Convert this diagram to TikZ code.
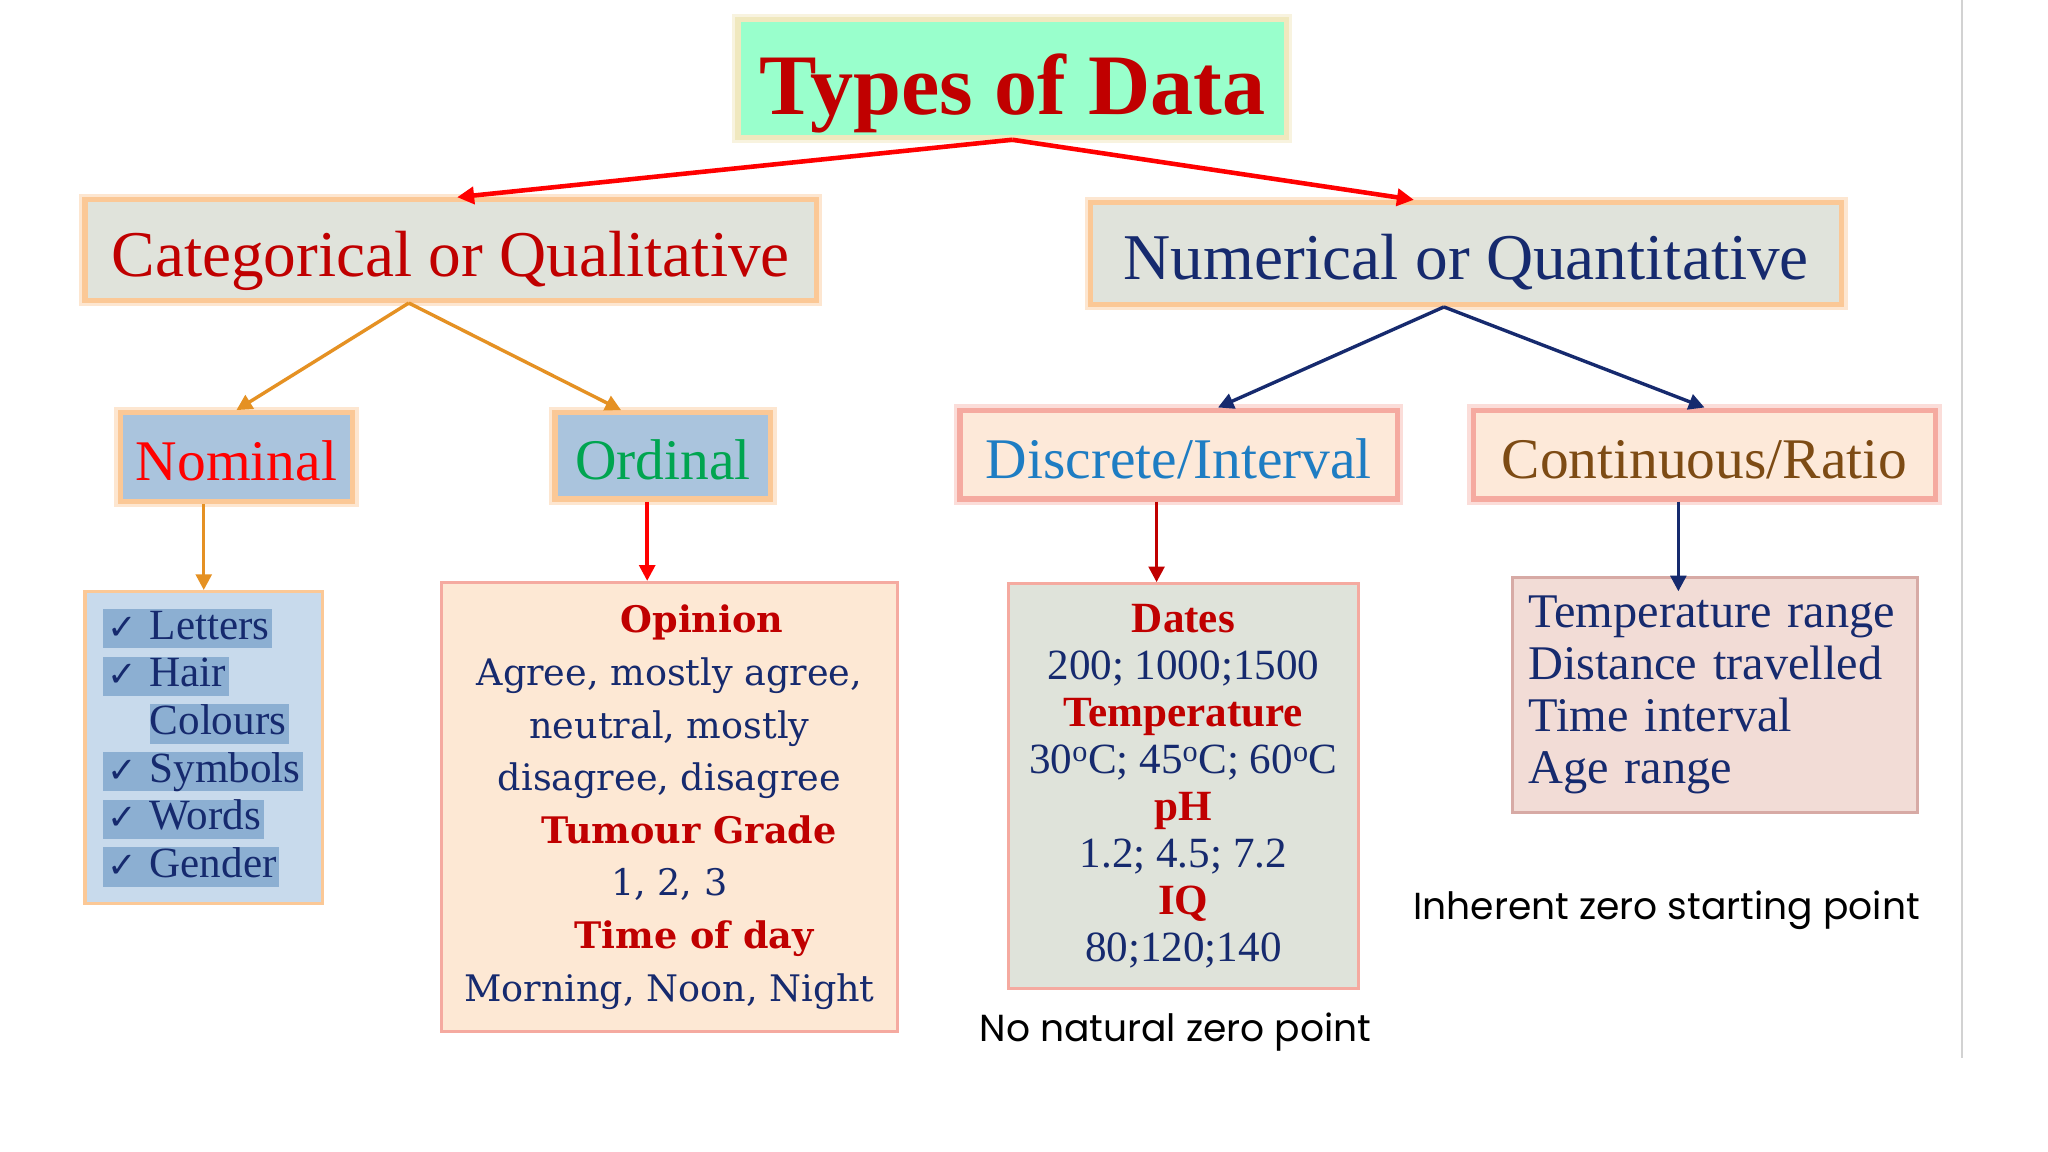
\documentclass[tikz,border=0pt]{standalone}
\usepackage{fontspec}
\setmainfont{Liberation Serif}
\newfontfamily\wideserif{DejaVu Serif}
\newfontfamily\gothic{Poppins}
\newfontfamily\symfont{DejaVu Sans}
\usetikzlibrary{arrows.meta}

\definecolor{titlefill}{RGB}{153,255,204}
\definecolor{titleglow}{RGB}{240,232,190}
\definecolor{darkred}{RGB}{192,0,0}
\definecolor{brightred}{RGB}{255,0,0}
\definecolor{navy}{RGB}{22,42,110}
\definecolor{headfill}{RGB}{224,227,219}
\definecolor{orangeglow}{RGB}{251,200,150}
\definecolor{arroworange}{RGB}{229,145,35}
\definecolor{steelfill}{RGB}{170,196,221}
\definecolor{ordgreen}{RGB}{0,165,80}
\definecolor{peachfill}{RGB}{253,233,217}
\definecolor{salmonglow}{RGB}{245,170,160}
\definecolor{discblue}{RGB}{30,125,195}
\definecolor{contbrown}{RGB}{125,75,20}
\definecolor{nomlistfill}{RGB}{200,218,236}
\definecolor{nomhl}{RGB}{140,175,210}
\definecolor{ordlistfill}{RGB}{253,232,212}
\definecolor{disclistfill}{RGB}{223,227,218}
\definecolor{contlistfill}{RGB}{242,220,214}
\definecolor{contlistedge}{RGB}{215,170,165}
\definecolor{sidegray}{RGB}{210,210,210}

\newcommand{\chkmark}{{\symfont\bfseries\fontsize{27}{27}\selectfont ✓}}
\newcommand{\chkitem}[1]{{\setlength{\fboxsep}{0pt}\colorbox{nomhl}{\rule[-7pt]{0pt}{30pt}\hspace{3pt}\chkmark\hspace{10pt}#1\hspace{2pt}}}}
\newcommand{\plainitem}[1]{\hphantom{\hspace{3pt}\chkmark\hspace{10pt}}{\setlength{\fboxsep}{0pt}\colorbox{nomhl}{\rule[-7pt]{0pt}{30pt}#1\hspace{2pt}}}}
\newcommand{\hd}[1]{{\bfseries\color{darkred}#1}}

\begin{document}
\begin{tikzpicture}[x=1pt,y=-1pt,
  box/.style={rectangle, inner sep=0pt, align=center, line width=4pt},
  titlebox/.style={box, fill=titlefill, draw=titleglow, preaction={draw=titleglow!50, line width=9pt}},
  headbox/.style={box, fill=headfill, draw=orangeglow, preaction={draw=orangeglow!45, line width=9pt}, font=\fontsize{50}{60}\selectfont, text height=40pt, text depth=0pt},
  bluebox/.style={box, fill=steelfill, draw=orangeglow, preaction={draw=orangeglow!45, line width=9pt}, font=\fontsize{44}{50}\selectfont, text height=36pt, text depth=0pt},
  peachbox/.style={box, fill=peachfill, draw=salmonglow, preaction={draw=salmonglow!40, line width=9pt}, font=\fontsize{44}{50}\selectfont, text height=36pt, text depth=0pt},
  listbox/.style={rectangle, inner sep=0pt, line width=2.5pt, text=navy},
  redarrow/.style={-{Triangle[length=13pt,width=13pt]}, line width=3.5pt, brightred},
  branch/.style={-{Triangle[length=12pt,width=12pt]}, line width=2.6pt},
  note/.style={font=\gothic\fontsize{28.8}{32}\selectfont, text=black}]
\useasboundingbox (0,0) rectangle (1568,882);
\fill[white] (0,0) rectangle (1568,882);
\draw[sidegray, line width=1.5pt] (1502,0) -- (1502,810);

%% top level
\node[titlebox, minimum width=420pt, minimum height=90pt, font=\fontsize{66}{70}\selectfont\bfseries, text=darkred, text height=56pt, text depth=0pt] (title) at (775,60) {Types of Data};
\node[headbox, minimum width=560pt, minimum height=77pt, text=darkred] (cat) at (345,191.5) {Categorical or Qualitative};
\node[headbox, minimum width=575pt, minimum height=78pt, text=navy] (num) at (1122.5,194) {Numerical or Quantitative};

%% second level
\node[bluebox, minimum width=178pt, minimum height=68pt, text=brightred] (nom) at (181,350) {Nominal};
\node[bluebox, minimum width=165pt, minimum height=66pt, text=ordgreen] (ord) at (507.5,349) {Ordinal};
\node[peachbox, minimum width=335pt, minimum height=68pt, text=discblue] (disc) at (902.5,348) {Discrete/Interval};
\node[peachbox, minimum width=354pt, minimum height=68pt, text=contbrown] (cont) at (1305,348) {Continuous/Ratio};

%% lists
\node[listbox, fill=nomlistfill, draw=orangeglow, minimum width=182pt, minimum height=239pt, text width=154pt, align=left, font=\fontsize{33}{36.5}\selectfont] (nomlist) at (156,572.5)
  {\chkitem{Letters}\\ \chkitem{Hair}\\ \plainitem{Colours}\\ \chkitem{Symbols}\\ \chkitem{Words}\\ \chkitem{Gender}};
\node[listbox, fill=ordlistfill, draw=salmonglow, minimum width=349pt, minimum height=344pt, align=center, font=\wideserif\fontsize{28}{40.3}\selectfont] (ordlist) at (512.5,618)
  {\hspace*{50pt}\hd{Opinion}\\ Agree, mostly agree,\\ neutral, mostly\\ disagree, disagree\\ \hspace*{30pt}\hd{Tumour Grade}\\ 1, 2, 3\\ \hspace*{38pt}\hd{Time of day}\\ Morning, Noon, Night};
\node[listbox, fill=disclistfill, draw=salmonglow, minimum width=268pt, minimum height=310pt, align=center, font=\fontsize{33}{36}\selectfont] (disclist) at (906,602)
  {\hd{Dates}\\ 200; 1000;1500\\ \hd{Temperature}\\ 30\textsuperscript{o}C; 45\textsuperscript{o}C; 60\textsuperscript{o}C\\ \hd{pH}\\ 1.2; 4.5; 7.2\\ \hd{IQ}\\ 80;120;140};
\node[listbox, fill=contlistfill, draw=contlistedge, minimum width=310pt, minimum height=180pt, text width=286pt, align=left, font=\fontsize{37}{40}\selectfont] (contlist) at (1313,532)
  {Temperature range\\ Distance travelled\\ Time interval\\ Age range};

\node[note] (inherent) at (1276,697) {Inherent zero starting point};
\node[note] (nozero) at (900,790) {No natural zero point};

%% connectors
\draw[redarrow] (title.south) -- ([xshift=5pt]cat.north);
\draw[redarrow] (title.south) -- ([xshift=-40pt]num.north);
\draw[branch, arroworange] ([xshift=-32pt]cat.south) -- (nom.north);
\draw[branch, arroworange] ([xshift=-32pt]cat.south) -- ([xshift=-32pt]ord.north);
\draw[branch, navy] ([xshift=-17pt]num.south) -- ([xshift=30pt]disc.north);
\draw[branch, navy] ([xshift=-17pt]num.south) -- (cont.north);
\draw[branch, arroworange] (nom.south -| nomlist.north) -- (nomlist.north);
\draw[branch, brightred] ([xshift=-12pt]ord.south) -- ([xshift=-12pt]ord.south |- ordlist.north);
\draw[branch, darkred] ([xshift=-17pt]disc.south) -- ([xshift=-17pt]disc.south |- disclist.north);
\draw[branch, navy] ([xshift=-20pt]cont.south) -- ([xshift=-20pt,yshift=-12pt]cont.south |- contlist.north);
\end{tikzpicture}
\end{document}
